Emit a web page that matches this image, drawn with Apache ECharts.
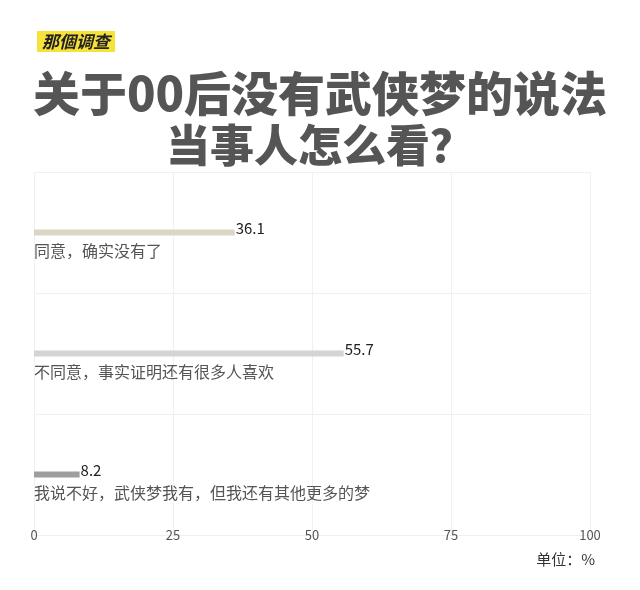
<!DOCTYPE html>
<html><head><meta charset="utf-8">
<script src="https://cdn.jsdelivr.net/npm/echarts@6/dist/echarts.min.js"></script>
<style>html,body{margin:0;padding:0;background:#fff}#c{width:640px;height:590px}</style>
</head><body><div id="c"></div>
<script>
var categories = ['同意，确实没有了', '不同意，事实证明还有很多人喜欢', '我说不好，武侠梦我有，但我还有其他更多的梦'];
var values = [36.1, 55.7, 8.2];
var barColors = ['#d9d6c4', '#d2d5d3', '#9e9e9e'];
var xTicks = [0, 25, 50, 75, 100];

var chart = echarts.init(document.getElementById('c'));
var font = '"Noto Sans CJK SC", "Noto Sans", sans-serif';
chart.setOption({
  backgroundColor: '#fff',
  animation: false,
  title: [
    {text: '那個调查', left: 37, top: 31, padding: [2, 5, 2, 5], backgroundColor: '#f7e23a',
     textStyle: {fontSize: 17, fontWeight: 'bold', fontStyle: 'italic', color: '#222', fontFamily: font}},
    {text: '关于00后没有武侠梦的说法', left: 'center', top: 65,
     textStyle: {fontSize: 47, fontWeight: 900, color: '#555', fontFamily: font}},
    {text: '当事人怎么看？', left: 'center', top: 118,
     textStyle: {fontSize: 44, fontWeight: 900, color: '#555', fontFamily: font}},
    {text: '单位：%', right: 40, top: 547,
     textStyle: {fontSize: 15, fontWeight: 'normal', color: '#333', fontFamily: font}}
  ],
  grid: {left: 34, right: 50, top: 172, bottom: 55, containLabel: false},
  xAxis: {
    type: 'value', min: 0, max: 100, interval: 25,
    axisLine: {show: false}, axisTick: {show: false},
    axisLabel: {margin: -6, color: '#555', fontSize: 13, fontFamily: font,
      formatter: function (v) { return xTicks.indexOf(v) >= 0 ? String(v) : ''; }},
    splitLine: {show: true, lineStyle: {color: '#f0f0f0', width: 1}}
  },
  yAxis: {
    type: 'category', data: categories, inverse: true,
    axisLine: {show: false}, axisTick: {show: false},
    splitLine: {show: true, lineStyle: {color: '#f0f0f0', width: 1}},
    axisLabel: {inside: true, margin: 0, align: 'left', verticalAlign: 'middle', lineHeight: 36,
      formatter: function (v) { return '\n' + v; },
      color: '#555', fontSize: 16, fontFamily: font}
  },
  series: [{
    type: 'bar', barWidth: 6,
    data: values.map(function (v, i) { return {value: v, itemStyle: {color: barColors[i]}}; }),
    label: {show: true, position: 'right', distance: 1, offset: [0, -4], color: '#222', fontSize: 15, fontFamily: font}
  }]
});
</script></body></html>
